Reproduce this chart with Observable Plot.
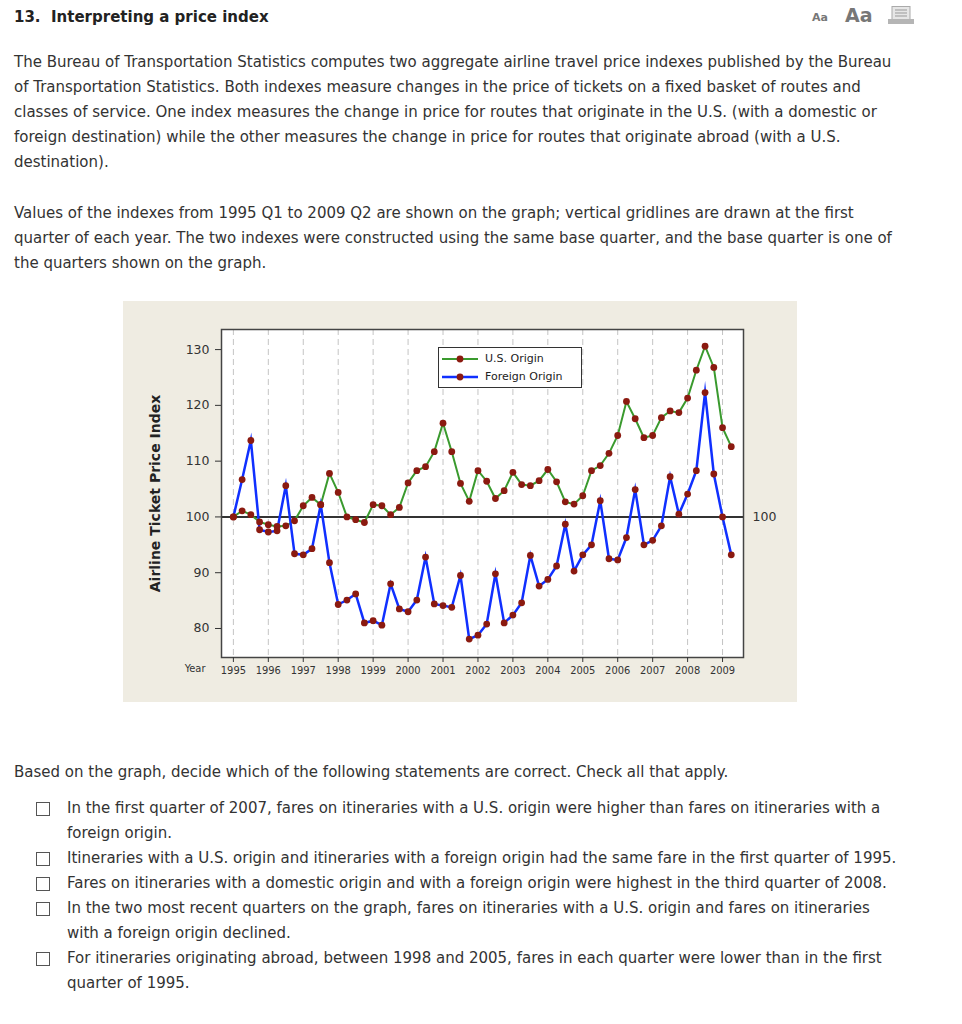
<!DOCTYPE html>
<html><head><meta charset="utf-8">
<script src="https://cdn.jsdelivr.net/npm/d3@7"></script>
<script src="https://cdn.jsdelivr.net/npm/@observablehq/plot@0.6"></script>
<style>
html,body{margin:0;padding:0;background:#fff}
body{position:relative;width:962px;height:1024px;overflow:hidden;font-family:"DejaVu Sans",Verdana,sans-serif;color:#333}
.l{position:absolute;left:14px;font-size:15px;line-height:25px;white-space:nowrap}
.o{left:67px}
.t{font-weight:bold;color:#222}
.cb{position:absolute;left:36px;width:12px;height:12px;border:1px solid #555;background:#fff}
#chart{position:absolute;left:123px;top:301px}
#legend{position:absolute;left:438px;top:347px;width:142px;height:39px;border:1px solid #333;background:#fff;font-size:11px;color:#222}
#legend .row{position:absolute;left:0;height:18px;line-height:18px;white-space:nowrap}
#legend svg{position:absolute;left:3px;top:3px}
#legend span{position:absolute;left:46px;top:0}
.aa{position:absolute;font-weight:bold;color:#777}
</style></head>
<body>
<div class="l t" style="top:5px">13.&nbsp; Interpreting a price index</div>
<div class="aa" style="left:812px;top:11px;font-size:11px">Aa</div>
<div class="aa" style="left:845px;top:4px;font-size:19px">Aa</div>
<svg style="position:absolute;left:887px;top:6px" width="28" height="19">
  <rect x="5" y="0.5" width="18" height="13" fill="#e6e6e6" stroke="#aaa"/>
  <line x1="8" y1="4" x2="20" y2="4" stroke="#999"/><line x1="8" y1="7" x2="20" y2="7" stroke="#999"/><line x1="8" y1="10" x2="20" y2="10" stroke="#999"/>
  <rect x="1" y="13" width="26" height="5" fill="#b5b5b5"/>
</svg>

<div class="l" style="top:50px">The Bureau of Transportation Statistics computes two aggregate airline travel price indexes published by the Bureau</div>
<div class="l" style="top:75px">of Transportation Statistics. Both indexes measure changes in the price of tickets on a fixed basket of routes and</div>
<div class="l" style="top:100px">classes of service. One index measures the change in price for routes that originate in the U.S. (with a domestic or</div>
<div class="l" style="top:125px">foreign destination) while the other measures the change in price for routes that originate abroad (with a U.S.</div>
<div class="l" style="top:150px">destination).</div>

<div class="l" style="top:201px">Values of the indexes from 1995 Q1 to 2009 Q2 are shown on the graph; vertical gridlines are drawn at the first</div>
<div class="l" style="top:226px">quarter of each year. The two indexes were constructed using the same base quarter, and the base quarter is one of</div>
<div class="l" style="top:251px">the quarters shown on the graph.</div>

<div id="chart"></div>
<div id="legend">
  <div class="row" style="top:2px"><svg width="40" height="12"><line x1="0" y1="6" x2="36" y2="6" stroke="#3a9a2e" stroke-width="2"/><circle cx="18" cy="6" r="3.4" fill="#8b1a10"/></svg><span>U.S. Origin</span></div>
  <div class="row" style="top:20px"><svg width="40" height="12"><line x1="0" y1="6" x2="36" y2="6" stroke="#1030ff" stroke-width="2.5"/><circle cx="18" cy="6" r="3.4" fill="#8b1a10"/></svg><span>Foreign Origin</span></div>
</div>

<div class="l" style="top:760px">Based on the graph, decide which of the following statements are correct. Check all that apply.</div>
<div class="cb" style="top:802px"></div>
<div class="l o" style="top:796px">In the first quarter of 2007, fares on itineraries with a U.S. origin were higher than fares on itineraries with a</div>
<div class="l o" style="top:821px">foreign origin.</div>
<div class="cb" style="top:852px"></div>
<div class="l o" style="top:846px">Itineraries with a U.S. origin and itineraries with a foreign origin had the same fare in the first quarter of 1995.</div>
<div class="cb" style="top:877px"></div>
<div class="l o" style="top:871px">Fares on itineraries with a domestic origin and with a foreign origin were highest in the third quarter of 2008.</div>
<div class="cb" style="top:902px"></div>
<div class="l o" style="top:896px">In the two most recent quarters on the graph, fares on itineraries with a U.S. origin and fares on itineraries</div>
<div class="l o" style="top:921px">with a foreign origin declined.</div>
<div class="cb" style="top:952px"></div>
<div class="l o" style="top:946px">For itineraries originating abroad, between 1998 and 2005, fares in each quarter were lower than in the first</div>
<div class="l o" style="top:971px">quarter of 1995.</div>

<script>
const quarters = [
  "1995 Q1","1995 Q2","1995 Q3","1995 Q4","1996 Q1","1996 Q2","1996 Q3","1996 Q4",
  "1997 Q1","1997 Q2","1997 Q3","1997 Q4","1998 Q1","1998 Q2","1998 Q3","1998 Q4",
  "1999 Q1","1999 Q2","1999 Q3","1999 Q4","2000 Q1","2000 Q2","2000 Q3","2000 Q4",
  "2001 Q1","2001 Q2","2001 Q3","2001 Q4","2002 Q1","2002 Q2","2002 Q3","2002 Q4",
  "2003 Q1","2003 Q2","2003 Q3","2003 Q4","2004 Q1","2004 Q2","2004 Q3","2004 Q4",
  "2005 Q1","2005 Q2","2005 Q3","2005 Q4","2006 Q1","2006 Q2","2006 Q3","2006 Q4",
  "2007 Q1","2007 Q2","2007 Q3","2007 Q4","2008 Q1","2008 Q2","2008 Q3","2008 Q4",
  "2009 Q1","2009 Q2"
];
const usOrigin = [
  100.0,101.1,100.4,99.1, 98.6,98.3,98.4,99.3, 102.0,103.5,102.2,107.8, 104.4,100.0,99.5,99.0,
  102.2,102.0,100.4,101.7, 106.1,108.3,109.0,111.7, 116.8,111.7,106.0,102.8, 108.3,106.4,103.3,104.7,
  108.0,105.8,105.6,106.5, 108.5,106.3,102.7,102.3, 103.8,108.3,109.2,111.4, 114.6,120.7,117.6,114.2,
  114.6,117.8,119.0,118.7, 121.3,126.3,130.6,126.8, 116.0,112.6
];
const foreignOrigin = [
  100.0,106.7,113.7,97.7, 97.3,97.5,105.6,93.4, 93.2,94.3,102.2,91.8, 84.3,85.1,86.2,81.0,
  81.4,80.6,88.0,83.5, 83.0,85.1,92.8,84.4, 84.1,83.8,89.5,78.1, 78.8,80.8,89.8,81.0,
  82.4,84.6,93.1,87.6, 88.8,91.2,98.7,90.3, 93.2,95.0,102.9,92.5, 92.3,96.3,104.9,95.0,
  95.8,98.4,107.2,100.5, 104.1,108.3,122.3,107.7, 100.0,93.2
];
const xTicks = [1995,1996,1997,1998,1999,2000,2001,2002,2003,2004,2005,2006,2007,2008,2009];
const yTicks = [80,90,100,110,120,130];
const baseIndex = [100];

const toT = q => { const [y, n] = q.split(" Q"); return +y + (+n - 1) / 4; };
const us = quarters.map((q, i) => ({t: toT(q), v: usOrigin[i]}));
const fo = quarters.map((q, i) => ({t: toT(q), v: foreignOrigin[i]}));

const dotFill = "#8b1a10";
const chart = Plot.plot({
  width: 674, height: 401,
  marginLeft: 98, marginRight: 54, marginTop: 28, marginBottom: 45,
  style: {background: "#efece2", fontFamily: "DejaVu Sans, sans-serif", color: "#333", overflow: "visible"},
  x: {domain: [1994.66, 2009.6]},
  y: {domain: [74.8, 133.6]},
  marks: [
    Plot.frame({fill: "white"}),
    Plot.ruleX(xTicks, {stroke: "#c4c4c4", strokeDasharray: "6,4"}),
    Plot.ruleY(baseIndex, {stroke: "#333", strokeWidth: 2}),
    Plot.line(us, {x: "t", y: "v", stroke: "#3a9a2e", strokeWidth: 2, strokeLinejoin: "miter", strokeMiterlimit: 12}),
    Plot.line(fo, {x: "t", y: "v", stroke: "#1030ff", strokeWidth: 2.5, strokeLinejoin: "miter", strokeMiterlimit: 12}),
    Plot.dot(us, {x: "t", y: "v", r: 3.4, fill: dotFill}),
    Plot.dot(fo, {x: "t", y: "v", r: 3.4, fill: dotFill}),
    Plot.frame({stroke: "#444", strokeWidth: 1.5}),
    Plot.axisY({ticks: yTicks, tickSize: 6, tickPadding: 6, fontSize: 12.5, label: null}),
    Plot.axisX({ticks: xTicks, tickSize: 5, tickPadding: 4, tickFormat: d => String(d), label: null,
                fontSize: 11, fontFamily: "DejaVu Sans Condensed, DejaVu Sans, sans-serif"}),
    Plot.text(["Year"], {frameAnchor: "bottom-left", dx: -16, dy: 14, textAnchor: "end", fontSize: 11,
                fontFamily: "DejaVu Sans Condensed, DejaVu Sans, sans-serif"}),
    Plot.text(["Airline Ticket Price Index"], {frameAnchor: "left", dx: -66, rotate: -90, textAnchor: "middle", fontWeight: "bold", fontSize: 14, fill: "#222"}),
    Plot.text(baseIndex, {y: d => d, text: d => String(d), frameAnchor: "right", dx: 9, textAnchor: "start", fontSize: 12.5})
  ]
});
document.getElementById("chart").append(chart);
</script>
</body></html>
